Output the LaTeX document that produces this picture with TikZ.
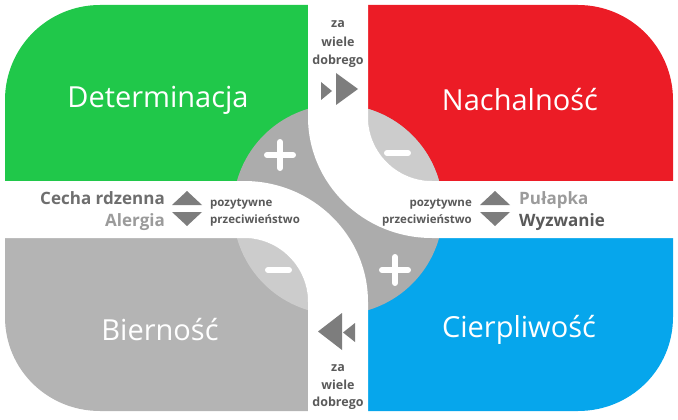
\documentclass[tikz,border=0pt]{standalone}
\usepackage{fontspec}
\setmainfont{Open Sans}
\definecolor{qgreen}{RGB}{32,200,74}
\definecolor{qred}{RGB}{236,28,38}
\definecolor{qblue}{RGB}{6,166,236}
\definecolor{qgray}{RGB}{180,180,180}
\definecolor{cgray}{RGB}{172,172,172}
\definecolor{lensgray}{RGB}{204,204,204}
\definecolor{tgray}{RGB}{125,125,125}
\definecolor{txtdark}{RGB}{90,90,90}
\definecolor{txtmid}{RGB}{110,110,110}
\definecolor{txtlight}{RGB}{155,155,155}
\tikzset{
  biglabel/.style={text=white, font=\fontsize{29}{34}\selectfont, inner sep=0pt},
  sidelabel/.style={font=\bfseries\fontsize{17}{20}\selectfont, inner sep=0pt},
  smalllabel/.style={font=\bfseries\fontsize{11.5}{14}\selectfont, text=txtdark, inner sep=0pt},
  toplabel/.style={font=\bfseries\fontsize{12.5}{15}\selectfont, text=txtdark, inner sep=0pt, anchor=base},
  signline/.style={draw=white, line width=6pt, line cap=round},
  tri/.style={fill=tgray}
}
\begin{document}
\begin{tikzpicture}[x=1pt,y=-1pt]
\useasboundingbox (0,0) rectangle (678,420);
% quadrants
\fill[qgreen] (308,182) -- (5,182) -- (5,100) .. controls (5,47.5) and (47.5,5) .. (100,5) -- (308,5) -- cycle;
\fill[qred] (368,182) -- (368,5) -- (578,5) .. controls (630.5,5) and (673,47.5) .. (673,100) -- (673,182) -- cycle;
\fill[qgray] (308,238) -- (5,238) -- (5,317) .. controls (5,369.5) and (47.5,411) .. (100,411) -- (308,411) -- cycle;
\fill[qblue] (368,238) -- (673,238) -- (673,317) .. controls (673,369.5) and (630.5,411) .. (578,411) -- (368,411) -- cycle;
% central circle
\fill[cgray] (338,209.5) circle[radius=105pt];
\begin{scope}
  \clip (338,209.5) circle[radius=105pt];
  \fill[lensgray] (368,-1) -- (368,117) .. controls (368,152.3) and (396.7,181) .. (432,181) -- (679,181) -- (679,-1) -- cycle;
  \fill[lensgray] (308,421) -- (308,302) .. controls (308,266.7) and (279.3,238) .. (244,238) -- (-1,238) -- (-1,421) -- cycle;
\end{scope}
% white bands
\fill[white] (308,-1) -- (308,117) .. controls (308,183.8) and (363.5,238) .. (432,238) -- (679,238) -- (679,181) -- (432,181) .. controls (396.7,181) and (368,152.3) .. (368,117) -- (368,-1) -- cycle;
\fill[white] (368,421) -- (368,302) .. controls (368,235.2) and (312.5,181) .. (244,181) -- (-1,181) -- (-1,238) -- (244,238) .. controls (279.3,238) and (308,266.7) .. (308,302) -- (308,421) -- cycle;
% signs
\draw[signline] (267,155) -- (293,155) (280,142) -- (280,168);
\draw[signline] (387,153) -- (408,153);
\draw[signline] (268,270) -- (289,270);
\draw[signline] (382,270) -- (408,270) (395,257) -- (395,283);
% big labels
\node[biglabel] (det) at (158,100) {Determinacja};
\node[biglabel] (nach) at (520,100) {Nachalność};
\node[biglabel] (bier) at (160,330) {Bierność};
\node[biglabel] (cier) at (519,330) {Cierpliwość};
% left middle
\node[sidelabel, text=txtmid, anchor=base east] (cecha) at (165,204) {Cecha rdzenna};
\node[sidelabel, text=txtlight, anchor=base east] (alergia) at (165,226) {Alergia};
\fill[tri] (172,205) -- (187,191) -- (202,205) -- cycle;
\fill[tri] (172,212) -- (202,212) -- (187,226) -- cycle;
\node[smalllabel, anchor=base west] (pozL) at (210,206) {pozytywne};
\node[smalllabel, anchor=base west] (przL) at (210,223) {przeciwieństwo};
% right middle
\node[smalllabel, anchor=base east] (pozR) at (472,206) {pozytywne};
\node[smalllabel, anchor=base east] (przR) at (472,223) {przeciwieństwo};
\fill[tri] (480,205) -- (495,191) -- (510,205) -- cycle;
\fill[tri] (480,212) -- (510,212) -- (495,226) -- cycle;
\node[sidelabel, text=txtlight, anchor=base west] (pulapka) at (519,204) {Pułapka};
\node[sidelabel, text=txtdark, anchor=base west] (wyzw) at (519,226) {Wyzwanie};
% top
\node[toplabel] (za1) at (338,28) {za};
\node[toplabel] (wiele1) at (338,46.5) {wiele};
\node[toplabel] (dobrego1) at (338,65) {dobrego};
\fill[tri] (321,82) -- (332,91) -- (321,100) -- cycle;
\fill[tri] (336,73) -- (358,89) -- (336,105) -- cycle;
% bottom
\fill[tri] (342,313) -- (318,331.5) -- (342,350) -- cycle;
\fill[tri] (355,323) -- (343,332.5) -- (355,342) -- cycle;
\node[toplabel] (za2) at (338,371) {za};
\node[toplabel] (wiele2) at (338,389) {wiele};
\node[toplabel] (dobrego2) at (338,406) {dobrego};
\end{tikzpicture}
\end{document}
